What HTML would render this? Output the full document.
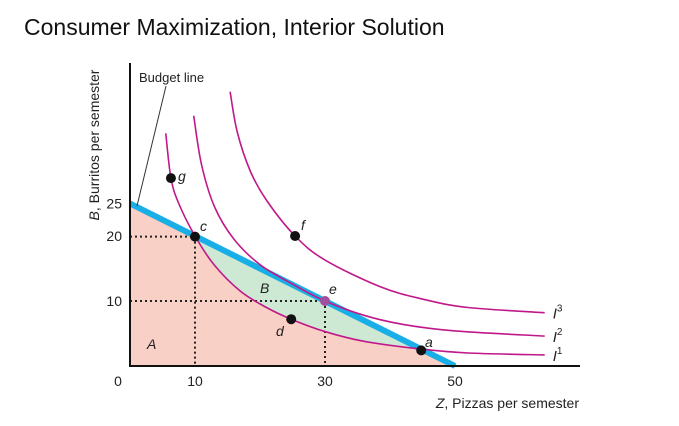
<!DOCTYPE html>
<html><head><meta charset="utf-8"><style>
body{margin:0;background:#fff;width:679px;height:421px;overflow:hidden;font-family:"Liberation Sans",sans-serif}
</style></head><body>
<svg id="chart" width="679" height="421" xmlns="http://www.w3.org/2000/svg" font-family="Liberation Sans, sans-serif">
<text x="24" y="35" font-size="23" fill="#111">Consumer Maximization, Interior Solution</text>
<defs><clipPath id="tri"><polygon id="triPoly"/></clipPath></defs>
<g id="plot"></g>
</svg>
<script>
const xTicks=[0,10,30,50];
const yTicks=[10,20,25];
const budget=[[0,25],[50,0]];
const i1=[[5.5,35.8],[6.3,28.9],[7.5,25],[10,20],[13,15.5],[17,11.5],[21,9],[24.8,7.2],[30,5.3],[36,3.8],[44.8,2.6],[52,2.0],[63.8,1.7]];
const i2=[[9.8,38.5],[11,31],[13,24.5],[16,19.5],[20,15.6],[25,12.6],[30,10],[36,7.8],[42,6.4],[50,5.4],[63.8,4.6]];
const i3=[[15.4,42.2],[16.5,36],[18.5,30],[21,25.5],[25.4,20],[30,16.3],[38.5,12.2],[45,10.3],[52,9],[63.8,8.2]];
const curveLabels=["I","I","I"];const curveSup=["1","2","3"];
const pts=[["g",6.3,28.9,"#111"],["c",10,19.9,"#111"],["f",25.4,20,"#111"],["e",30,10,"#a0509c"],["d",24.8,7.2,"#111"],["a",44.8,2.4,"#111"]];
const X=v=>130+v*6.5, Y=v=>366-v*6.5;
const NS="http://www.w3.org/2000/svg";
const g=document.getElementById('plot');
function el(t,a,p){const e=document.createElementNS(NS,t);for(const k in a)e.setAttribute(k,a[k]);(p||g).appendChild(e);return e;}
function smooth(p){const q=p.map(d=>[X(d[0]),Y(d[1])]);let s=`M${q[0][0]},${q[0][1]}`;
for(let i=0;i<q.length-1;i++){const p0=q[i-1]||q[i],p1=q[i],p2=q[i+1],p3=q[i+2]||p2;
s+=` C${p1[0]+(p2[0]-p0[0])/6},${p1[1]+(p2[1]-p0[1])/6} ${p2[0]-(p3[0]-p1[0])/6},${p2[1]-(p3[1]-p1[1])/6} ${p2[0]},${p2[1]}`;}return s;}
const tri=`${X(budget[0][0])},${Y(budget[0][1])} ${X(budget[1][0])},${Y(budget[1][1])} ${X(0)},${Y(0)}`;
document.getElementById('triPoly').setAttribute('points',tri);
const gr=el('polygon',{points:tri,fill:'#cde9d3'});


const pk=el('path',{d:smooth(i1)+` L${X(63.8)},${Y(0)} L${X(0)},${Y(0)} L${X(0)},${Y(40)} Z`,fill:'#f9d0c5','clip-path':'url(#tri)'});


[[10,19.9],[30,10]].forEach(d=>{
const h=el('line',{x1:X(0),y1:Y(d[1]),x2:X(d[0]),y2:Y(d[1]),stroke:'#222','stroke-width':2,'stroke-dasharray':'2 3'});


const v=el('line',{x1:X(d[0]),y1:Y(d[1]),x2:X(d[0]),y2:Y(0),stroke:'#222','stroke-width':2,'stroke-dasharray':'2 3'});

});
const bl=el('line',{x1:X(budget[0][0]),y1:Y(budget[0][1]),x2:X(budget[1][0]),y2:Y(budget[1][1]),stroke:'#1aaee6','stroke-width':6});


[i1,i2,i3].forEach((c,k)=>{
const p=el('path',{d:smooth(c),fill:'none',stroke:'#c0188a','stroke-width':1.6});


const last=c[c.length-1];
const t=el('text',{x:X(last[0])+8,y:Y(last[1])+6,'font-size':15,'font-style':'italic',fill:'#222'});


t.textContent=curveLabels[k];
const s=el('tspan',{dy:-7,'font-size':10,'font-style':'normal'},t);s.textContent=curveSup[k];});
const ax=el('path',{d:`M130,63 V366 H580`,fill:'none',stroke:'#111','stroke-width':2});


xTicks.forEach(v=>{const t=el('text',{x:v===0?118:X(v),y:386,'font-size':14,'text-anchor':'middle',fill:'#222'});

t.textContent=v;});
yTicks.forEach(v=>{const t=el('text',{x:122,y:Y(v)+5,'font-size':14,'text-anchor':'end',fill:'#222'});

t.textContent=v;});
pts.forEach(p=>{const c=el('circle',{cx:X(p[1]),cy:Y(p[2]),r:5,fill:p[3]});

});
const lbl=[["g",178,181],["c",200,231],["f",301,230],["e",329,294],["d",276,336],["a",425,347],["B",260,293],["A",147,349]];
lbl.forEach(l=>{const t=el('text',{x:l[1],y:l[2],'font-size':14,'font-style':'italic',fill:'#222'});

t.textContent=l[0];});
const ll=el('line',{x1:166,y1:86,x2:137,y2:206,stroke:'#333','stroke-width':1});


const bt=el('text',{x:139,y:82,'font-size':13,fill:'#222'});

bt.textContent='Budget line';
const xt=el('text',{x:579,y:408,'font-size':14,'text-anchor':'end',fill:'#222'});


xt.innerHTML='<tspan font-style="italic">Z</tspan>, Pizzas per semester';
const yt=el('text',{x:0,y:0,'font-size':14,'text-anchor':'middle',fill:'#222',transform:'translate(99,145) rotate(-90)'});


yt.innerHTML='<tspan font-style="italic">B</tspan>, Burritos per semester';
</script>
</body></html>
